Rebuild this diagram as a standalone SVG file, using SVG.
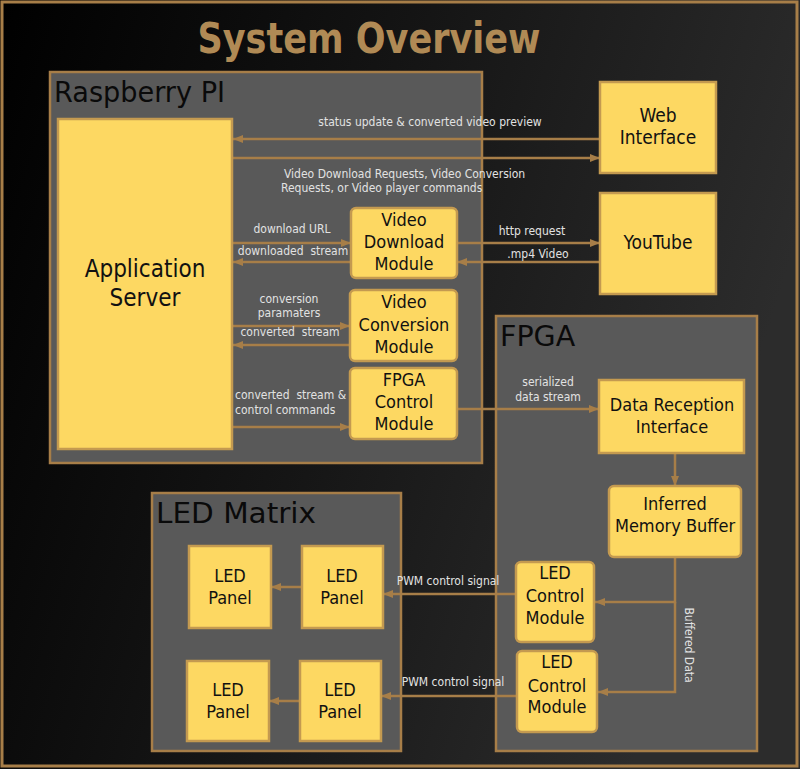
<svg xmlns="http://www.w3.org/2000/svg" width="800" height="769" viewBox="0 0 800 769">
<defs>
<linearGradient id="bg" x1="0" y1="0" x2="1" y2="0.3">
<stop offset="0" stop-color="#000"/>
<stop offset="0.5" stop-color="#151515"/>
<stop offset="1" stop-color="#2c2c2c"/>
</linearGradient>
<marker id="ah" viewBox="0 0 10 8" refX="10" refY="4" markerWidth="10" markerHeight="8" markerUnits="userSpaceOnUse" orient="auto">
<path d="M0,0 L10,4 L0,8 z" fill="#a77e48"/>
</marker>
<style>
.cont{fill:#595959;stroke:#a77e48;stroke-width:2.5}
.node{fill:#fdd862;stroke:#c49a50;stroke-width:2.5}
.ct{font-family:"DejaVu Sans",sans-serif;font-size:28.5px;fill:#0a0a0a}
.nt{font-family:"DejaVu Sans Condensed","DejaVu Sans",sans-serif;font-size:18px;fill:#111;text-anchor:middle}
.big{font-size:24px}
.mid{font-size:19px}
.lb{font-family:"DejaVu Sans Condensed","DejaVu Sans",sans-serif;font-size:12px;fill:#e2e2e2}
.m{text-anchor:middle}
.ln{fill:none;stroke:#a77e48;stroke-width:2.5}
.arr{marker-end:url(#ah)}
</style>
</defs>
<rect x="0" y="0" width="800" height="769" fill="url(#bg)"/>
<rect x="2" y="2" width="795" height="764" fill="none" stroke="#a77e48" stroke-width="3"/>
<text x="369" y="53" font-family="DejaVu Sans Condensed,DejaVu Sans,sans-serif" font-weight="bold" font-size="42" fill="#b08a55" text-anchor="middle" textLength="343" lengthAdjust="spacingAndGlyphs">System Overview</text>

<g id="raspberry-pi">
<rect class="cont" x="50" y="72" width="432" height="391"/>
<text class="ct" x="54" y="102" textLength="171" lengthAdjust="spacingAndGlyphs">Raspberry PI</text>
</g>
<g id="fpga">
<rect class="cont" x="496" y="316" width="261" height="435"/>
<text class="ct" x="500" y="346">FPGA</text>
</g>
<g id="led-matrix">
<rect class="cont" x="152" y="493" width="249" height="258"/>
<text class="ct" x="156" y="523" textLength="160" lengthAdjust="spacingAndGlyphs">LED Matrix</text>
</g>

<g id="connectors">
<path class="ln arr" d="M600,139 L233,139"/>
<path class="ln arr" d="M233,158 L600,158"/>
<path class="ln arr" d="M233,243 L351,243"/>
<path class="ln arr" d="M351,262 L233,262"/>
<path class="ln arr" d="M457,243 L600,243"/>
<path class="ln arr" d="M600,262 L457,262"/>
<path class="ln arr" d="M233,326 L350,326"/>
<path class="ln arr" d="M350,345 L233,345"/>
<path class="ln arr" d="M233,427 L350,427"/>
<path class="ln arr" d="M457,409 L599,409"/>
<path class="ln arr" d="M675,453 L675,486"/>
<path class="ln arr" d="M675,557 V602 H595"/>
<path class="ln arr" d="M675,602 V692 H598"/>
<path class="ln arr" d="M516,594 L383,594"/>
<path class="ln arr" d="M517,696 L381,696"/>
<path class="ln arr" d="M302,587 L271,587"/>
<path class="ln arr" d="M300,701 L269,701"/>
<text class="lb m" x="430" y="126">status update &amp; converted video preview</text>
<text class="lb" x="284" y="178">Video Download Requests, Video Conversion</text>
<text class="lb" x="281" y="192">Requests, or Video player commands</text>
<text class="lb m" x="292" y="233">download URL</text>
<text class="lb m" x="293" y="255" xml:space="preserve">downloaded  stream</text>
<text class="lb m" x="532" y="235">http request</text>
<text class="lb m" x="538" y="258">.mp4 Video</text>
<text class="lb m" x="289" y="303">conversion</text>
<text class="lb m" x="289" y="317">paramaters</text>
<text class="lb m" x="290" y="336" xml:space="preserve">converted  stream</text>
<text class="lb" x="235" y="399" xml:space="preserve">converted  stream &amp;</text>
<text class="lb" x="235" y="414">control commands</text>
<text class="lb m" x="548" y="386">serialized</text>
<text class="lb m" x="548" y="401">data stream</text>
<text class="lb m" x="448" y="585">PWM control signal</text>
<text class="lb m" x="453" y="686">PWM control signal</text>
<text class="lb m" transform="translate(685,645) rotate(90)">Buffered Data</text>
</g>

<g id="application-server">
<rect class="node" x="58" y="119" width="174" height="330"/>
<text class="nt big" x="145" y="277">Application</text>
<text class="nt big" x="145" y="306">Server</text>
</g>
<g id="web-interface">
<rect class="node" x="600" y="82" width="116" height="91"/>
<text class="nt mid" x="658" y="122">Web</text>
<text class="nt mid" x="658" y="144">Interface</text>
</g>
<g id="youtube">
<rect class="node" x="600" y="193" width="116" height="101"/>
<text class="nt mid" x="658" y="249">YouTube</text>
</g>
<g id="video-download-module">
<rect class="node" x="351" y="208" width="106" height="70" rx="5"/>
<text class="nt" x="404" y="226">Video</text>
<text class="nt" x="404" y="248">Download</text>
<text class="nt" x="404" y="270">Module</text>
</g>
<g id="video-conversion-module">
<rect class="node" x="350" y="290" width="107" height="71" rx="5"/>
<text class="nt" x="404" y="308">Video</text>
<text class="nt" x="404" y="331">Conversion</text>
<text class="nt" x="404" y="353">Module</text>
</g>
<g id="fpga-control-module">
<rect class="node" x="350" y="368" width="107" height="71" rx="5"/>
<text class="nt" x="404" y="386">FPGA</text>
<text class="nt" x="404" y="408">Control</text>
<text class="nt" x="404" y="430">Module</text>
</g>
<g id="data-reception-interface">
<rect class="node" x="599" y="380" width="145" height="73"/>
<text class="nt" x="672" y="411">Data Reception</text>
<text class="nt" x="672" y="433">Interface</text>
</g>
<g id="inferred-memory-buffer">
<rect class="node" x="609" y="486" width="132" height="71" rx="5"/>
<text class="nt" x="675" y="510">Inferred</text>
<text class="nt" x="675" y="532">Memory Buffer</text>
</g>
<g id="led-control-module-1">
<rect class="node" x="516" y="562" width="78" height="80" rx="5"/>
<text class="nt" x="555" y="579">LED</text>
<text class="nt" x="555" y="602">Control</text>
<text class="nt" x="555" y="624">Module</text>
</g>
<g id="led-control-module-2">
<rect class="node" x="517" y="651" width="80" height="81" rx="5"/>
<text class="nt" x="557" y="668">LED</text>
<text class="nt" x="557" y="692">Control</text>
<text class="nt" x="557" y="713">Module</text>
</g>
<g id="led-panel-1">
<rect class="node" x="189" y="546" width="82" height="82"/>
<text class="nt" x="230" y="582">LED</text>
<text class="nt" x="230" y="604">Panel</text>
</g>
<g id="led-panel-2">
<rect class="node" x="302" y="546" width="81" height="82"/>
<text class="nt" x="342" y="582">LED</text>
<text class="nt" x="342" y="604">Panel</text>
</g>
<g id="led-panel-3">
<rect class="node" x="187" y="661" width="82" height="80"/>
<text class="nt" x="228" y="696">LED</text>
<text class="nt" x="228" y="718">Panel</text>
</g>
<g id="led-panel-4">
<rect class="node" x="300" y="661" width="81" height="80"/>
<text class="nt" x="340" y="696">LED</text>
<text class="nt" x="340" y="718">Panel</text>
</g>
</svg>
